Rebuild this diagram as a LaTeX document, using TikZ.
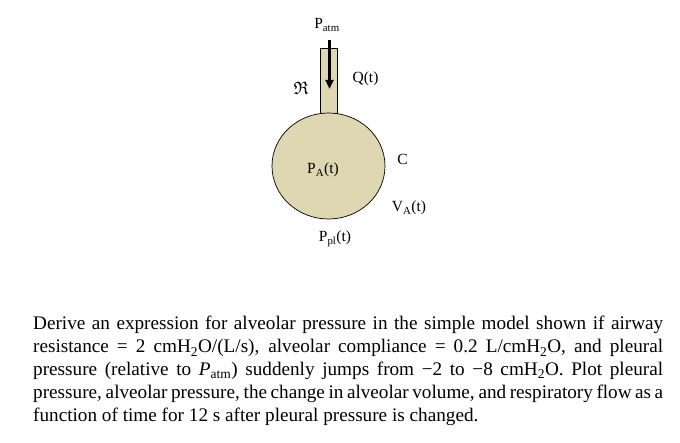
\documentclass[tikz,border=0pt]{standalone}
\usepackage{amssymb}
\usepackage{fontspec}
\setmainfont{Liberation Serif}
\usetikzlibrary{arrows.meta,shapes.geometric}
\definecolor{lungfill}{RGB}{222,215,178}
\begin{document}
\begin{tikzpicture}[x=1pt,y=-1pt,
  lbl/.style={inner sep=0pt,anchor=base,font=\fontsize{15.5}{18}\selectfont},
  wall/.style={draw=black,line width=0.7pt,fill=lungfill}]
\useasboundingbox (0,0) rectangle (680,443);
\node[wall,minimum width=17pt,minimum height=65pt,inner sep=0pt,anchor=north] (tube) at (328.5,48) {};
\node[wall,ellipse,minimum width=113pt,minimum height=106pt,inner sep=0pt] (lung) at (328.5,166) {};
\coordinate (arrtop) at (329.5,40);
\coordinate (arrbot) at (329.5,89);
\draw[line width=2.6pt,-{Triangle[width=8pt,length=9pt]}] (arrtop) -- (arrbot);
\node[lbl] (patm) at (327,29) {P\textsubscript{atm}};
\node[lbl,font=\fontsize{18}{20}\selectfont] (res) at (301,95) {$\mathfrak{R}$};
\node[lbl] (q) at (365.5,83) {Q(t)};
\node[lbl] (pa) at (323,174) {P\textsubscript{A}(t)};
\node[lbl] (c) at (402.5,165) {C};
\node[lbl] (va) at (409,212) {V\textsubscript{A}(t)};
\node[lbl] (ppl) at (335,242) {P\textsubscript{pl}(t)};
\node[inner sep=0pt,anchor=base west,text width=630pt,align=justify,
  font=\fontsize{19.2}{22.9}\selectfont] (txt) at (33,330) {Derive an expression for alveolar pressure in the simple model shown if airway\linebreak resistance = 2 cmH\textsubscript{2}O/(L/s), alveolar compliance = 0.2 L/cmH\textsubscript{2}O, and pleural\linebreak pressure (relative to \textit{P}\textsubscript{atm}) suddenly jumps from −2 to −8 cmH\textsubscript{2}O. Plot pleural\linebreak pressure, alveolar pressure, the change in alveolar volume, and respiratory flow as a\linebreak function of time for 12 s after pleural pressure is changed.};
\end{tikzpicture}
\end{document}
